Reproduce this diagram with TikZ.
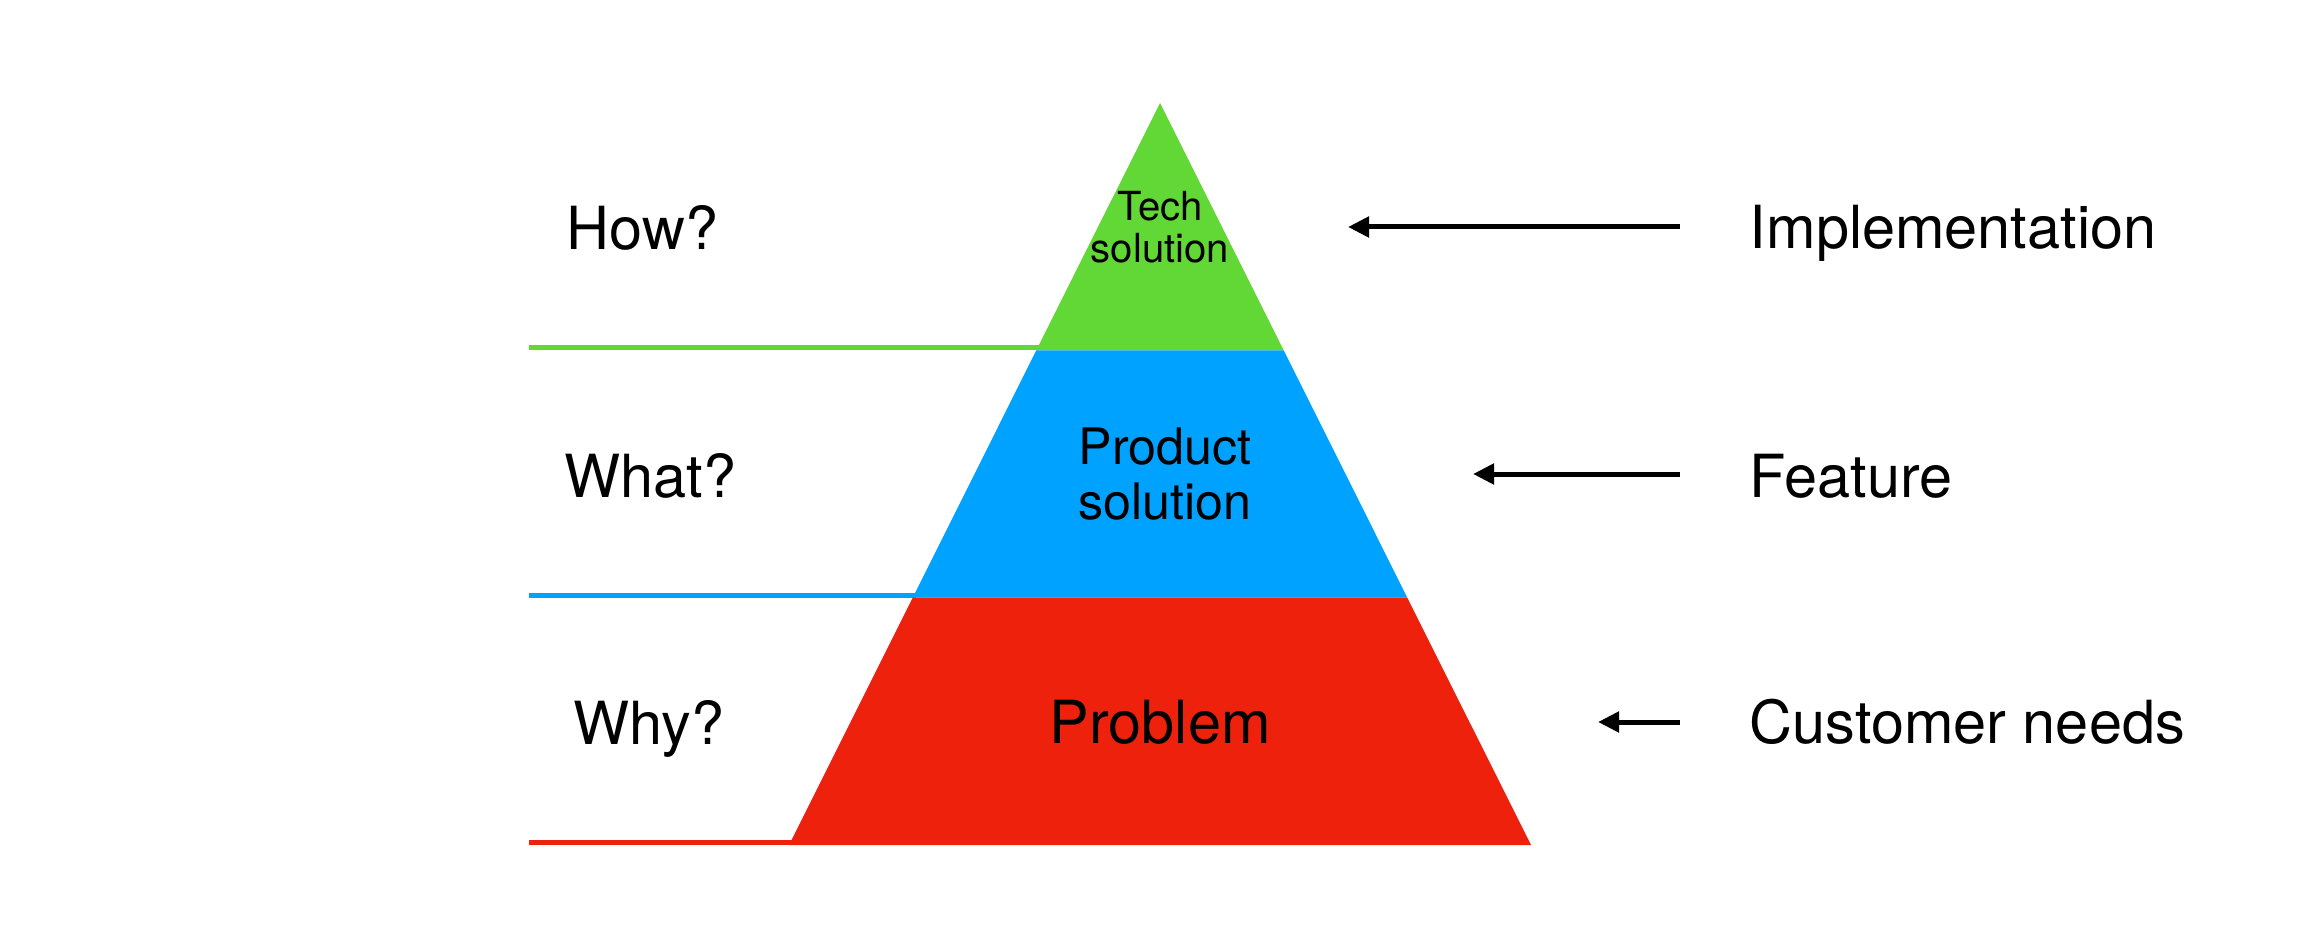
\documentclass[tikz,border=0pt]{standalone}
\usepackage{fontspec}
\setmainfont{TeX Gyre Heros}
\usetikzlibrary{arrows.meta}
\definecolor{kgreen}{RGB}{97,216,54}
\definecolor{kblue}{RGB}{0,162,255}
\definecolor{kred}{RGB}{238,34,12}
\begin{document}
\begin{tikzpicture}[x=0.01cm,y=-0.01cm,
  biglabel/.style={font=\fontsize{16.9}{20}\selectfont, inner sep=0pt},
  prodlabel/.style={font=\fontsize{14.3}{15.4}\selectfont, inner sep=0pt, align=center},
  techlabel/.style={font=\fontsize{11.4}{12.2}\selectfont, inner sep=0pt, align=center},
  guide/.style={line width=0.05cm},
  pointer/.style={line width=0.05cm, black, -{Triangle[length=0.21cm,width=0.2cm]}}]
\useasboundingbox (0,0) rectangle (2316,946);
% pyramid corners
\coordinate (apex) at (1160,103);
\coordinate (gl) at (1036.3,350.3);
\coordinate (gr) at (1283.7,350.3);
\coordinate (bl) at (912.7,597.7);
\coordinate (br) at (1407.3,597.7);
\coordinate (rl) at (789,845);
\coordinate (rr) at (1531,845);
% guide lines
\coordinate (g0) at (529,347.8);
\coordinate (g1) at (1040,347.8);
\coordinate (b0) at (529,595.2);
\coordinate (b1) at (916,595.2);
\coordinate (r0) at (529,842.5);
\coordinate (r1) at (792,842.5);
\draw[guide, kgreen] (g0) -- (g1);
\draw[guide, kblue] (b0) -- (b1);
\draw[guide, kred] (r0) -- (r1);
% bands
\fill[kgreen] (apex) -- (gl) -- (gr) -- cycle;
\fill[kblue] (gl) -- (bl) -- (br) -- (gr) -- cycle;
\fill[kred] (bl) -- (rl) -- (rr) -- (br) -- cycle;
% band texts (base = last line baseline)
\node[techlabel, anchor=base] (tech) at (1160,263) {Tech\\solution};
\node[prodlabel, anchor=base] (prod) at (1165,519) {Product\\solution};
\node[biglabel, anchor=base] (prob) at (1160,743) {Problem};
% left labels
\node[biglabel, anchor=base west] (how) at (566,250) {How?};
\node[biglabel, anchor=base west] (what) at (564,497) {What?};
\node[biglabel, anchor=base west] (why) at (573,744) {Why?};
% right labels
\node[biglabel, anchor=base west] (impl) at (1749,249) {Implementation};
\node[biglabel, anchor=base west] (feat) at (1749,497) {Feature};
\node[biglabel, anchor=base west] (cust) at (1749,743) {Customer needs};
% arrows
\coordinate (a1s) at (1680,227);
\coordinate (a1e) at (1348,227);
\coordinate (a2s) at (1680,474);
\coordinate (a2e) at (1473,474);
\coordinate (a3s) at (1680,722);
\coordinate (a3e) at (1598,722);
\draw[pointer] (a1s) -- (a1e);
\draw[pointer] (a2s) -- (a2e);
\draw[pointer] (a3s) -- (a3e);
\end{tikzpicture}
\end{document}
